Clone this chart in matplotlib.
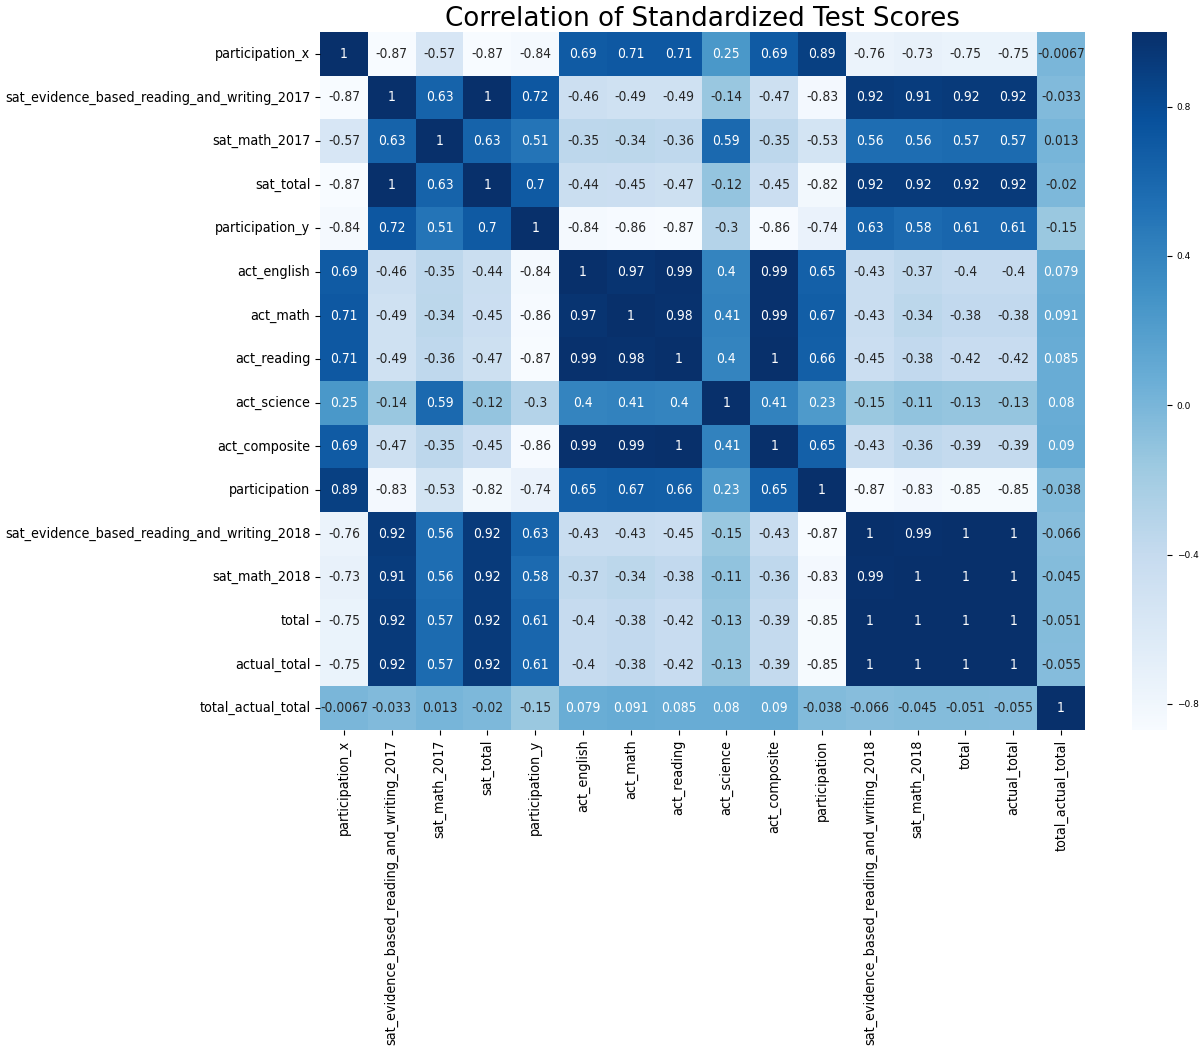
import numpy as np
import matplotlib
matplotlib.use("Agg")
import matplotlib.pyplot as plt
from matplotlib import font_manager as fm
import seaborn as sns

labels = ["participation_x", "sat_evidence_based_reading_and_writing_2017", "sat_math_2017",
          "sat_total", "participation_y", "act_english", "act_math", "act_reading",
          "act_science", "act_composite", "participation",
          "sat_evidence_based_reading_and_writing_2018", "sat_math_2018", "total",
          "actual_total", "total_actual_total"]

r_participation_x = [1, -0.87, -0.57, -0.87, -0.84, 0.69, 0.71, 0.71, 0.25, 0.69, 0.89, -0.76, -0.73, -0.75, -0.75, -0.0067]
r_sat_ebrw_2017 = [-0.87, 1, 0.63, 1, 0.72, -0.46, -0.49, -0.49, -0.14, -0.47, -0.83, 0.92, 0.91, 0.92, 0.92, -0.033]
r_sat_math_2017 = [-0.57, 0.63, 1, 0.63, 0.51, -0.35, -0.34, -0.36, 0.59, -0.35, -0.53, 0.56, 0.56, 0.57, 0.57, 0.013]
r_sat_total = [-0.87, 1, 0.63, 1, 0.7, -0.44, -0.45, -0.47, -0.12, -0.45, -0.82, 0.92, 0.92, 0.92, 0.92, -0.02]
r_participation_y = [-0.84, 0.72, 0.51, 0.7, 1, -0.84, -0.86, -0.87, -0.3, -0.86, -0.74, 0.63, 0.58, 0.61, 0.61, -0.15]
r_act_english = [0.69, -0.46, -0.35, -0.44, -0.84, 1, 0.97, 0.99, 0.4, 0.99, 0.65, -0.43, -0.37, -0.4, -0.4, 0.079]
r_act_math = [0.71, -0.49, -0.34, -0.45, -0.86, 0.97, 1, 0.98, 0.41, 0.99, 0.67, -0.43, -0.34, -0.38, -0.38, 0.091]
r_act_reading = [0.71, -0.49, -0.36, -0.47, -0.87, 0.99, 0.98, 1, 0.4, 1, 0.66, -0.45, -0.38, -0.42, -0.42, 0.085]
r_act_science = [0.25, -0.14, 0.59, -0.12, -0.3, 0.4, 0.41, 0.4, 1, 0.41, 0.23, -0.15, -0.11, -0.13, -0.13, 0.08]
r_act_composite = [0.69, -0.47, -0.35, -0.45, -0.86, 0.99, 0.99, 1, 0.41, 1, 0.65, -0.43, -0.36, -0.39, -0.39, 0.09]
r_participation = [0.89, -0.83, -0.53, -0.82, -0.74, 0.65, 0.67, 0.66, 0.23, 0.65, 1, -0.87, -0.83, -0.85, -0.85, -0.038]
r_sat_ebrw_2018 = [-0.76, 0.92, 0.56, 0.92, 0.63, -0.43, -0.43, -0.45, -0.15, -0.43, -0.87, 1, 0.99, 1, 1, -0.066]
r_sat_math_2018 = [-0.73, 0.91, 0.56, 0.92, 0.58, -0.37, -0.34, -0.38, -0.11, -0.36, -0.83, 0.99, 1, 1, 1, -0.045]
r_total = [-0.75, 0.92, 0.57, 0.92, 0.61, -0.4, -0.38, -0.42, -0.13, -0.39, -0.85, 1, 1, 1, 1, -0.051]
r_actual_total = [-0.75, 0.92, 0.57, 0.92, 0.61, -0.4, -0.38, -0.42, -0.13, -0.39, -0.85, 1, 1, 1, 1, -0.055]
r_total_actual_total = [-0.0067, -0.033, 0.013, -0.02, -0.15, 0.079, 0.091, 0.085, 0.08, 0.09, -0.038, -0.066, -0.045, -0.051, -0.055, 1]

corr = np.array([r_participation_x, r_sat_ebrw_2017, r_sat_math_2017, r_sat_total,
                 r_participation_y, r_act_english, r_act_math, r_act_reading,
                 r_act_science, r_act_composite, r_participation, r_sat_ebrw_2018,
                 r_sat_math_2018, r_total, r_actual_total, r_total_actual_total])

plt.rcParams['font.family'] = ['DejaVu Sans']

# Prefer a condensed face for the narrow-looking cell / tick text when available
stretch = 'normal'
try:
    path = fm.findfont(fm.FontProperties(family='DejaVu Sans', stretch='condensed'),
                       fallback_to_default=False)
    if 'ondensed' in path:
        stretch = 'condensed'
except Exception:
    pass

fig = plt.figure(figsize=(12, 10.49), dpi=100)
W, H = 1200, 1049
renderer = fig.canvas.get_renderer()


def size_for(text, target_px, base=10.0):
    t = fig.text(0, 0, text, fontsize=base, fontstretch=stretch)
    w = t.get_window_extent(renderer=renderer).width
    t.remove()
    return base * target_px / w


tick_fs = size_for("sat_evidence_based_reading_and_writing_2017", 306)
annot_fs = size_for("-0.0067", 48)

ax = fig.add_axes([320 / W, 1 - 730 / H, (1085 - 320) / W, (730 - 32) / H])
cax = fig.add_axes([1132 / W, 1 - 730 / H, (1167 - 1132) / W, (730 - 32) / H])

sns.heatmap(corr, ax=ax, cbar_ax=cax, cmap="Blues", annot=True,
            annot_kws={"fontsize": annot_fs, "fontstretch": stretch},
            xticklabels=labels, yticklabels=labels)

ax.set_title("Correlation of Standardized Test Scores", fontsize=18.8, pad=4)
ax.tick_params(axis='both', labelsize=tick_fs)
for lab in ax.get_xticklabels():
    lab.set_rotation(90)
    lab.set_fontstretch(stretch)
for lab in ax.get_yticklabels():
    lab.set_rotation(0)
    lab.set_fontstretch(stretch)
cax.set_yticks([-0.8, -0.4, 0.0, 0.4, 0.8])
cax.tick_params(labelsize=6.5)

fig.savefig("out.png", dpi=100)
